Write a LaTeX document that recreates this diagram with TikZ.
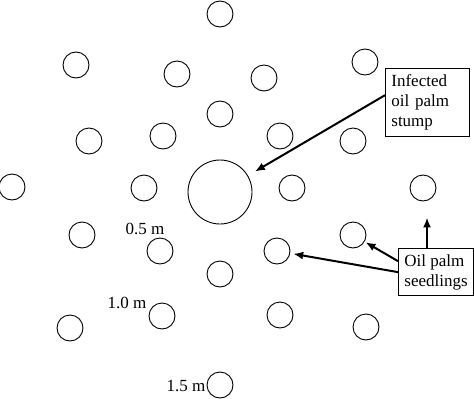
\documentclass[tikz,border=0pt]{standalone}
\usepackage{fontspec}
\setmainfont{Liberation Serif}
\usetikzlibrary{arrows.meta}

\begin{document}
\begin{tikzpicture}[x=1pt, y=-1pt,
    seedling/.style={draw, circle, line width=0.9pt, minimum size=26pt, inner sep=0pt},
    labelbox/.style={draw, line width=0.8pt, align=left, inner sep=6pt, font=\fontsize{17pt}{20pt}\selectfont},
    dist/.style={inner sep=0pt, font=\fontsize{17pt}{20pt}\selectfont},
    arr/.style={-{Latex[length=10pt, width=8pt]}, line width=2pt}]
    \clip (0,0) rectangle (474,399);

    % infected stump in the middle
    \node[draw, circle, line width=0.9pt, minimum size=64pt, inner sep=0pt] (stump) at (220,192) {};

    % seedlings at 0.5 m
    \node[seedling] (i1) at (220,114) {};
    \node[seedling] (i2) at (280,136) {};
    \node[seedling] (i3) at (292,188) {};
    \node[seedling] (i4) at (277,251) {};
    \node[seedling] (i5) at (220,274) {};
    \node[seedling] (i6) at (160,251) {};
    \node[seedling] (i7) at (144,188) {};
    \node[seedling] (i8) at (163,136) {};

    % seedlings at 1.0 m
    \node[seedling] (m1) at (264,78) {};
    \node[seedling] (m2) at (353,141) {};
    \node[seedling] (m3) at (353,235) {};
    \node[seedling] (m4) at (280,315) {};
    \node[seedling] (m5) at (162,316) {};
    \node[seedling] (m6) at (82,235) {};
    \node[seedling] (m7) at (89,141) {};
    \node[seedling] (m8) at (177,74) {};

    % seedlings at 1.5 m
    \node[seedling] (o1) at (220,14) {};
    \node[seedling] (o2) at (365,62) {};
    \node[seedling] (o3) at (423,188) {};
    \node[seedling] (o4) at (366,327) {};
    \node[seedling] (o5) at (220,385) {};
    \node[seedling] (o6) at (70,328) {};
    \node[seedling] (o7) at (12,187) {};
    \node[seedling] (o8) at (76,65) {};

    \node[dist] (d05) at (145,229) {0.5 m};
    \node[dist] (d10) at (127,303) {1.0 m};
    \node[dist] (d15) at (186,386) {1.5 m};

    \node[labelbox, text width=72pt, anchor=north west] (stumpbox) at (385,68) {Infected\\oil palm\\stump};
    \node[labelbox, anchor=north west] (seedbox) at (398,248) {Oil palm\\seedlings};

    \draw[arr, shorten >=8pt] ([yshift=7pt]stumpbox.west) -- (stump);
    \draw[arr, shorten >=16pt] ([xshift=-9pt]seedbox.north) -- ([xshift=-9pt]seedbox.north |- o3.south);
    \draw[arr, shorten >=1pt] ([yshift=11pt]seedbox.west) -- (m3);
    \draw[arr, shorten >=3pt] (seedbox.west) -- (i4);
\end{tikzpicture}
\end{document}
